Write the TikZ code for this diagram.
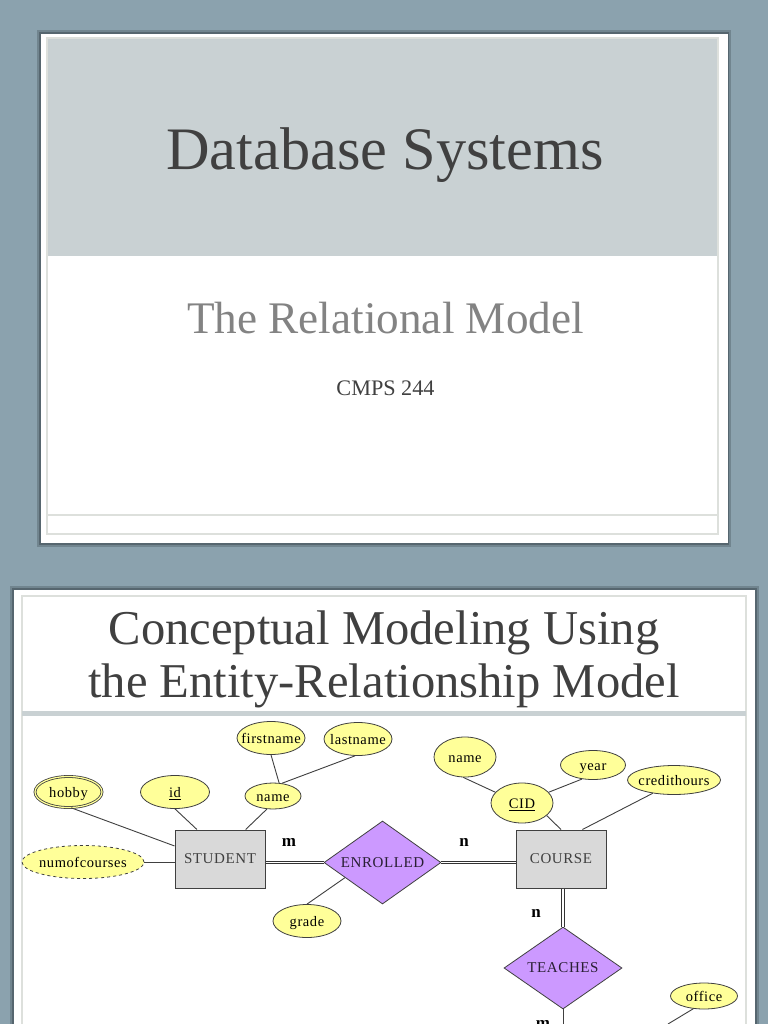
\documentclass[tikz,border=0pt]{standalone}
\usepackage{fontspec}
\setmainfont{Liberation Serif}
\newfontfamily\diagfont[LetterSpace=4]{Liberation Serif}
\usetikzlibrary{shapes.geometric}
\definecolor{wallbg}{HTML}{8BA2AE}
\definecolor{slideshade}{HTML}{56666F}
\definecolor{slideglow}{HTML}{71858F}
\definecolor{bandgray}{HTML}{C9D1D3}
\definecolor{framegray}{HTML}{DDE0DC}
\definecolor{ink}{HTML}{404040}
\definecolor{attrfill}{HTML}{FFFF99}
\definecolor{relfill}{HTML}{CC99FF}
\definecolor{entfill}{HTML}{D9D9D9}
\newcommand{\px}[1]{\fontsize{#1}{#1}\selectfont}

\begin{document}
\begin{tikzpicture}[x=1pt,y=-1pt]
    \tikzset{
      titletext/.style={anchor=base, text=ink, inner sep=0pt},
      attr/.style={ellipse, draw=ink, fill=attrfill, line width=0.8pt, inner ysep=0pt, inner xsep=-7pt, text=black, text height=12pt, text depth=1pt, font=\diagfont\px{14.5}},
      entity/.style={rectangle, draw=ink, fill=entfill, line width=1pt, minimum width=90pt, minimum height=58pt, inner sep=0pt, text=ink, font=\diagfont\px{15}},
      rel/.style={diamond, draw=ink, fill=relfill, line width=0.8pt, inner sep=0pt, text=black!80!relfill, font=\diagfont\px{15}},
      conn/.style={draw=ink, line width=0.9pt},
      total/.style={draw=black!80, line width=1pt, double=white, double distance=1.2pt},
      card/.style={inner sep=0pt, text=black, font=\px{17}\bfseries}
    }
    \path[use as bounding box, clip] (0,0) rectangle (768,1024);
    \fill[wallbg] (0,0) rectangle (768,1024);

    % first slide
    \fill[slideglow] (37,30) rectangle (731,547);
    \fill[slideshade] (39,32) rectangle (729,545);
    \fill[white] (41,34) rectangle (728,543);
    \fill[bandgray] (47,38) rectangle (718,256);
    \draw[framegray, line width=1.2pt] (47,38) rectangle (718,534);
    \draw[framegray, line width=1.2pt] (47,515) -- (718,515);
    \node[titletext, font=\px{60.3}] (maintitle) at (385,170) {Database Systems};
    \node[titletext, font=\px{45.2}, text=ink!65] (subtitle) at (385.5,333) {The Relational Model};
    \node[titletext, font=\px{22.2}] (coursecode) at (385.5,395) {CMPS 244};

    % second slide
    \fill[slideglow] (10,586) rectangle (759,1030);
    \fill[slideshade] (12,588) rectangle (757,1030);
    \fill[white] (14,590) rectangle (755,1030);
    \draw[framegray, line width=1.2pt] (22,596) rectangle (746,1030);
    \fill[bandgray] (22,711) rectangle (746,716);
    \node[titletext, font=\px{48.6}] (headone) at (384,644) {Conceptual Modeling Using};
    \node[titletext, font=\px{48.6}] (headtwo) at (384,697.5) {the Entity-Relationship Model};

    % entities and relationships
    \node[entity] (student) at (220,859) {STUDENT};
    \node[entity] (course) at (561,859) {COURSE};
    \node[rel, shape aspect=1.41, minimum width=117pt, minimum height=83pt] (enrolled) at (382.5,862.5) {ENROLLED};
    \node[rel, shape aspect=1.44, minimum width=118pt, minimum height=82pt] (teaches) at (563,968) {TEACHES};

    % attributes
    \node[attr, minimum width=68pt, minimum height=33pt] (firstname) at (271,738) {firstname};
    \node[attr, minimum width=68pt, minimum height=33pt] (lastname) at (358,739) {lastname};
    \node[attr, minimum width=67pt, minimum height=31pt, double=attrfill, double distance=1.2pt] (hobby) at (68.5,792) {hobby};
    \node[attr, minimum width=69pt, minimum height=33pt] (id) at (175,792) {\underline{id}};
    \node[attr, minimum width=56pt, minimum height=26pt] (sname) at (273,796) {name};
    \node[attr, minimum width=122pt, minimum height=33pt, dashed] (numofcourses) at (83,862) {numofcourses};
    \node[attr, minimum width=68pt, minimum height=33pt] (grade) at (307,921) {grade};
    \node[attr, minimum width=62pt, minimum height=40pt] (cname) at (465,757) {name};
    \node[attr, minimum width=65pt, minimum height=29pt] (year) at (593,765) {year};
    \node[attr, minimum width=93pt, minimum height=29pt] (credithours) at (674,780) {credithours};
    \node[attr, minimum width=62pt, minimum height=40pt] (cid) at (522,803) {\underline{CID}};
    \node[attr, minimum width=67pt, minimum height=26pt] (office) at (704,996) {office};

    \coordinate (teachesend) at (563,1024);
    \coordinate (officeend) at (668,1024);

    % connectors
    \draw[conn] (hobby.-80) -- (student.164);
    \draw[conn] (id.south) -- (student.128);
    \draw[conn] (sname.-115) -- (student.49);
    \draw[conn] (numofcourses.east) -- (numofcourses.east -| student.west);
    \draw[conn] (firstname.south) -- (sname.65);
    \draw[conn] (lastname.-100) -- (sname.55);
    \draw[conn] (grade.north) -- (enrolled.202);
    \draw[conn] (cname.-95) -- (cid.158);
    \draw[conn] (year.-128) -- (cid.22);
    \draw[conn] (cid.-27) -- (course.north);
    \draw[conn] (credithours.-148) -- (course.54);
    \draw[conn] (office.-130) -- (officeend);
    \draw[conn] (teaches.south) -- (teachesend);
    \draw[total] (student.east |- enrolled.west) -- (enrolled.west);
    \draw[total] (enrolled.east) -- (course.west |- enrolled.east);
    \draw[total] (teaches.north |- course.south) -- (teaches.north);

    % cardinalities
    \node[card] (cardm) at (289,842) {m};
    \node[card] (cardn) at (464,842) {n};
    \node[card] (cardnt) at (536,913) {n};
    \node[card] (cardmt) at (543,1024) {m};
\end{tikzpicture}
\end{document}
